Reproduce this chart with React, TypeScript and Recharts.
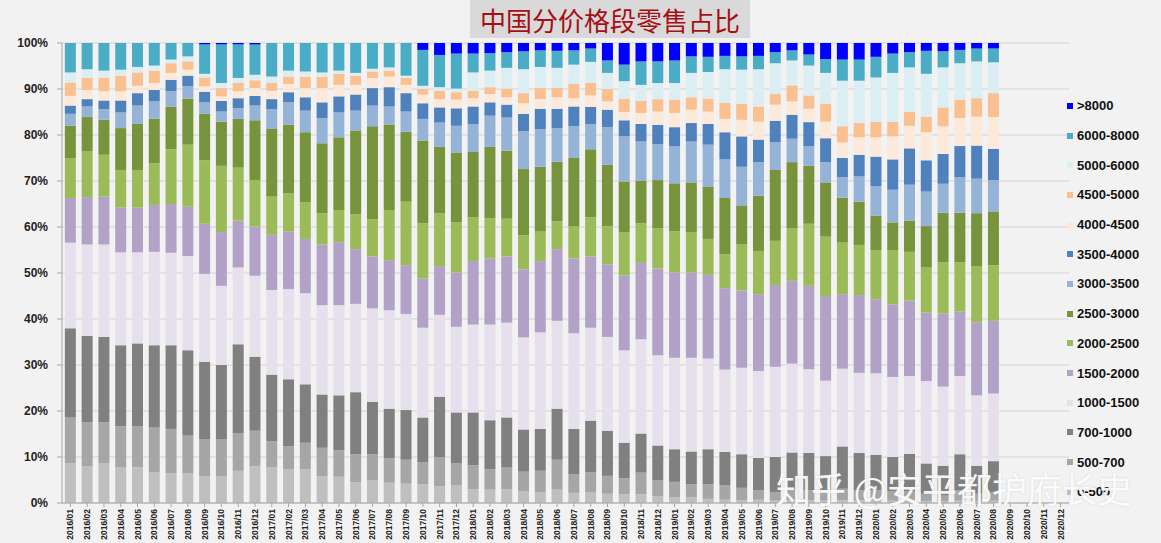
import React from 'react';
import { BarChart, Bar, XAxis, YAxis, CartesianGrid } from 'recharts';

// 2016/01 - 2020/12, data only up to 2020/08
const months: string[] = [];
for (let y = 2016; y <= 2020; y++) {
  for (let m = 1; m <= 12; m++) months.push(`${y}/${m < 10 ? '0' + m : m}`);
}

// share of retail sales by price band (%), one row per year
const p0_500 = [
  8.6, 8.0, 8.7, 7.7, 7.8, 6.7, 6.5, 6.5, 5.8, 5.8, 7.0, 8.0,
  7.8, 7.3, 7.3, 5.8, 5.7, 4.5, 4.9, 4.4, 4.2, 4.1, 3.6, 3.8,
  3.0, 2.9, 3.0, 2.5, 2.4, 2.9, 2.2, 2.4, 2.0, 1.9, 1.9, 1.5,
  1.2, 1.2, 0.9, 0.7, 0.6, 0.7, 0.5, 0.6, 0.6, 0.5, 0.6, 0.6,
  0.6, 0.5, 0.5, 0.4, 0.4, 0.5, 0.4, 0.5,
];
const p500_700 = [
  10.0, 9.5, 8.9, 9.0, 8.9, 9.7, 9.6, 8.2, 8.0, 8.0, 8.1, 7.7,
  5.6, 5.0, 5.8, 6.2, 5.8, 6.1, 5.7, 5.3, 5.2, 4.8, 6.3, 4.8,
  5.2, 4.4, 4.7, 4.3, 4.6, 6.5, 4.0, 4.3, 3.9, 3.5, 4.7, 3.4,
  3.4, 2.9, 3.2, 3.1, 2.7, 2.1, 1.9, 2.2, 2.2, 1.9, 2.5, 2.2,
  2.2, 2.1, 2.1, 1.6, 1.2, 2.3, 1.6, 1.9,
];
const p700_1000 = [
  19.4, 18.8, 18.5, 17.6, 18.0, 17.9, 18.2, 18.5, 16.9, 16.2, 19.4, 16.1,
  14.5, 14.6, 12.7, 11.6, 11.9, 13.5, 11.4, 10.8, 10.8, 9.7, 13.2, 11.1,
  11.5, 10.7, 10.9, 9.2, 9.1, 11.1, 9.9, 11.2, 9.8, 7.7, 8.5, 7.6,
  7.1, 7.1, 7.6, 7.3, 7.3, 7.0, 7.6, 8.2, 8.1, 7.8, 9.2, 8.1,
  7.7, 7.4, 8.1, 6.6, 6.5, 7.8, 6.1, 6.7,
];
const p1000_1500 = [
  18.6, 19.9, 20.1, 20.2, 19.8, 20.3, 20.1, 20.5, 19.1, 17.2, 16.7, 17.6,
  18.4, 19.6, 19.8, 19.4, 19.6, 19.2, 20.3, 21.4, 20.9, 19.5, 17.8, 18.6,
  19.1, 20.8, 20.6, 20.0, 21.0, 19.1, 20.8, 20.2, 20.4, 20.1, 20.5, 19.6,
  19.9, 20.4, 19.7, 17.9, 18.8, 18.9, 19.6, 19.3, 18.2, 16.4, 16.9, 17.4,
  17.7, 17.4, 16.9, 17.9, 17.2, 17.0, 15.3, 14.7,
];
const p1500_2000 = [
  9.7, 10.3, 10.4, 9.7, 9.7, 10.2, 10.6, 10.7, 10.9, 11.7, 10.2, 10.7,
  12.0, 12.5, 11.8, 13.2, 13.7, 11.9, 11.3, 10.9, 10.6, 10.7, 10.6, 11.8,
  13.8, 14.4, 14.4, 14.8, 15.5, 15.6, 16.3, 15.5, 15.8, 16.3, 16.6, 18.9,
  18.5, 18.5, 18.2, 17.7, 16.8, 16.7, 17.8, 18.0, 18.1, 18.4, 16.2, 16.9,
  16.1, 15.8, 16.4, 14.9, 15.9, 14.0, 15.9, 15.8,
];
const p2000_2500 = [
  8.7, 10.0, 9.1, 8.2, 8.2, 9.1, 11.9, 13.5, 13.8, 14.4, 11.5, 10.1,
  8.3, 8.3, 8.0, 6.8, 7.0, 7.6, 8.1, 10.9, 13.8, 12.0, 11.5, 10.9,
  9.5, 8.7, 8.2, 7.4, 6.4, 6.0, 6.9, 8.5, 8.3, 9.3, 8.6, 8.7,
  9.0, 8.7, 7.8, 7.4, 10.0, 9.4, 9.6, 11.4, 13.5, 12.9, 11.2, 10.9,
  10.6, 11.7, 10.6, 9.8, 11.1, 10.7, 12.1, 12.1,
];
const p2500_3000 = [
  7.0, 7.4, 7.6, 9.1, 10.0, 9.6, 9.3, 10.0, 10.1, 9.6, 10.6, 13.0,
  14.7, 14.9, 15.2, 15.2, 15.8, 18.2, 20.2, 18.6, 15.2, 18.0, 14.4, 15.2,
  14.2, 15.5, 14.8, 14.4, 14.1, 13.0, 14.9, 14.8, 13.3, 11.1, 9.3, 10.5,
  10.4, 10.9, 11.3, 12.2, 8.5, 12.0, 15.4, 14.4, 12.6, 11.8, 9.8, 9.4,
  7.6, 6.1, 6.8, 9.0, 10.8, 10.8, 11.6, 11.7,
];
const p3000_3500 = [
  2.6, 2.3, 2.3, 3.4, 4.0, 3.8, 3.3, 2.7, 2.5, 2.2, 2.3, 3.2,
  4.3, 4.9, 4.7, 5.5, 5.4, 4.3, 4.5, 3.9, 4.4, 4.7, 5.3, 5.8,
  6.1, 6.8, 7.2, 8.2, 8.2, 7.3, 6.9, 5.5, 8.2, 9.8, 8.5, 7.8,
  8.1, 8.9, 9.2, 8.4, 8.4, 7.3, 6.0, 5.1, 4.3, 4.4, 4.4, 5.5,
  6.4, 7.1, 7.8, 7.5, 6.3, 7.7, 7.5, 6.8,
];
const p3500_4000 = [
  1.8, 1.6, 1.9, 2.6, 2.7, 2.5, 2.5, 2.3, 2.3, 2.3, 2.2, 2.1,
  2.2, 2.2, 2.9, 3.4, 3.5, 3.5, 3.8, 4.2, 4.0, 3.4, 3.3, 3.8,
  3.8, 2.9, 2.8, 3.8, 4.4, 4.2, 4.3, 3.7, 3.8, 3.5, 3.8, 4.2,
  4.1, 4.0, 4.5, 5.9, 6.6, 4.9, 4.7, 5.2, 5.2, 5.2, 4.2, 4.7,
  6.4, 6.6, 7.9, 6.8, 6.5, 6.8, 7.2, 6.8,
];
const p4000_4500 = [
  2.1, 2.0, 2.0, 2.0, 1.6, 1.5, 1.5, 1.3, 1.2, 1.0, 1.5, 1.7,
  1.8, 1.8, 2.0, 3.1, 2.5, 2.1, 2.2, 2.3, 1.8, 1.9, 1.8, 1.9,
  1.8, 1.8, 1.6, 2.3, 2.1, 2.5, 1.8, 2.5, 1.8, 1.8, 2.4, 2.9,
  3.1, 2.9, 2.7, 2.9, 3.6, 3.9, 3.5, 2.9, 2.9, 3.6, 3.4, 3.8,
  4.2, 5.0, 4.9, 6.1, 6.0, 6.1, 6.3, 6.9,
];
const p4500_5000 = [
  2.9, 2.6, 3.0, 3.4, 2.9, 2.7, 2.1, 1.8, 1.9, 1.8, 1.8, 1.7,
  1.7, 1.6, 2.5, 2.5, 2.4, 2.0, 1.4, 1.3, 1.5, 1.2, 1.8, 1.6,
  1.6, 1.5, 1.9, 2.2, 2.4, 2.1, 3.1, 2.7, 2.7, 2.9, 2.6, 2.7,
  2.9, 2.7, 2.8, 3.5, 3.5, 3.3, 2.3, 3.5, 2.9, 3.9, 3.5, 3.1,
  3.4, 3.2, 3.0, 3.4, 4.1, 4.0, 4.0, 5.2,
];
const p5000_6000 = [
  2.2, 1.9, 1.5, 1.3, 1.2, 1.1, 0.8, 1.1, 0.8, 1.1, 1.1, 1.2,
  1.4, 1.3, 1.1, 0.9, 0.7, 0.6, 0.6, 0.7, 0.5, 0.7, 0.8, 0.8,
  4.0, 3.6, 4.5, 5.2, 4.6, 4.3, 4.2, 4.6, 3.5, 3.8, 3.5, 3.5,
  3.6, 5.3, 5.8, 7.3, 7.4, 8.1, 6.7, 5.4, 6.5, 6.7, 9.9, 9.2,
  9.6, 10.6, 9.7, 9.3, 8.7, 7.9, 8.0, 6.7,
];
const p6000_8000 = [
  6.4, 5.7, 6.0, 5.8, 5.2, 4.9, 3.6, 2.9, 6.4, 8.4, 7.3, 6.6,
  7.3, 6.0, 6.2, 6.4, 6.0, 6.5, 5.6, 5.3, 7.1, 7.8, 7.0, 7.6,
  4.1, 3.8, 3.4, 3.9, 3.6, 3.7, 3.1, 2.9, 2.7, 3.6, 5.1, 4.7,
  4.9, 3.6, 3.3, 2.9, 2.9, 2.9, 2.4, 2.2, 2.4, 3.0, 4.6, 4.6,
  4.5, 4.2, 3.3, 5.0, 3.5, 2.9, 2.8, 3.0,
];
const p8000 = [
  0, 0, 0, 0, 0, 0, 0, 0, 0.3, 0.3, 0.3, 0.3,
  0, 0, 0, 0, 0, 0, 0, 0, 0, 1.5, 2.6, 2.3,
  2.3, 2.2, 2.0, 1.8, 1.6, 1.7, 1.6, 1.2, 3.8, 4.7, 4.0, 4.0,
  3.8, 2.9, 3.0, 2.8, 2.9, 2.8, 2.0, 1.6, 2.5, 3.5, 3.6, 3.6,
  3.0, 2.3, 2.0, 1.7, 1.8, 1.5, 1.2, 1.2,
];

// bottom of the stack first
const series = [
  { key: '0-500', values: p0_500, color: '#BFBFBF' },
  { key: '500-700', values: p500_700, color: '#A6A6A6' },
  { key: '700-1000', values: p700_1000, color: '#808080' },
  { key: '1000-1500', values: p1000_1500, color: '#E6E0EC' },
  { key: '1500-2000', values: p1500_2000, color: '#B3A2C7' },
  { key: '2000-2500', values: p2000_2500, color: '#9BBB59' },
  { key: '2500-3000', values: p2500_3000, color: '#77933C' },
  { key: '3000-3500', values: p3000_3500, color: '#95B3D7' },
  { key: '3500-4000', values: p3500_4000, color: '#4F81BD' },
  { key: '4000-4500', values: p4000_4500, color: '#FDE9D9' },
  { key: '4500-5000', values: p4500_5000, color: '#FAC090' },
  { key: '5000-6000', values: p5000_6000, color: '#DBEEF4' },
  { key: '6000-8000', values: p6000_8000, color: '#4BACC6' },
  { key: '>8000', values: p8000, color: '#0000FF' },
];

const data = months.map((name, i) => {
  const row: any = { name };
  series.forEach((s) => {
    if (i < s.values.length) row[s.key] = s.values[i];
  });
  return row;
});

const yTicks = [0, 0.1, 0.2, 0.3, 0.4, 0.5, 0.6, 0.7, 0.8, 0.9, 1];
const FONT = 'Arial, "Liberation Sans", sans-serif';

const MonthTick = ({ x, y, payload }: any) => (
  <g transform={`translate(${x},${y})`}>
    <text
      transform="rotate(-90)"
      x={0}
      y={0}
      dy={3}
      textAnchor="end"
      fontSize={8.5}
      fontWeight="bold"
      fontFamily={FONT}
      fill="#222"
    >
      {payload.value}
    </text>
  </g>
);

export default function App() {
  return (
    <div
      style={{
        position: 'absolute',
        left: 0,
        top: 0,
        width: 1161,
        height: 543,
        background: '#F2F2F2',
        overflow: 'hidden',
        fontFamily: FONT,
      }}
    >
      <div
        style={{
          position: 'absolute',
          left: 470,
          top: 0,
          width: 280,
          height: 38,
          background: '#D9D9D9',
          color: '#A50F15',
          fontSize: 26,
          lineHeight: '40px',
          textAlign: 'center',
          fontFamily: '"Noto Sans CJK SC", sans-serif',
        }}
      >
        中国分价格段零售占比
      </div>

      <BarChart
        width={1161}
        height={543}
        data={data}
        stackOffset="expand"
        barCategoryGap="17%"
        margin={{ top: 43, right: 92, bottom: 0, left: 0 }}
      >
        <CartesianGrid horizontal vertical={false} stroke="#D4D4D4" />
        <XAxis
          dataKey="name"
          interval={0}
          height={40}
          tickSize={4}
          tickMargin={2}
          tick={<MonthTick />}
          axisLine={{ stroke: '#A6A6A6' }}
          tickLine={{ stroke: '#A6A6A6' }}
        />
        <YAxis
          type="number"
          domain={[0, 1]}
          ticks={yTicks}
          width={62}
          tickSize={5}
          tickMargin={9}
          tickFormatter={(v: number) => `${Math.round(v * 100)}%`}
          tick={{ fontSize: 12, fontWeight: 'bold', fill: '#222', fontFamily: FONT }}
          axisLine={{ stroke: '#A6A6A6' }}
          tickLine={{ stroke: '#A6A6A6' }}
        />
        {series.map((s) => (
          <Bar
            key={s.key}
            dataKey={s.key}
            stackId="a"
            fill={s.color}
            isAnimationActive={false}
          />
        ))}
      </BarChart>

      <div style={{ position: 'absolute', left: 1067, top: 91, width: 94 }}>
        {series
          .slice()
          .reverse()
          .map((s) => (
            <div
              key={s.key}
              style={{
                height: 29.7,
                display: 'flex',
                alignItems: 'center',
                fontSize: 13,
                fontWeight: 'bold',
                color: '#111',
                whiteSpace: 'nowrap',
              }}
            >
              <span
                style={{
                  display: 'inline-block',
                  width: 6,
                  height: 6,
                  background: s.color,
                  marginRight: 4,
                }}
              />
              {s.key}
            </div>
          ))}
      </div>

      <div
        style={{
          position: 'absolute',
          left: 776,
          top: 468,
          fontSize: 35,
          color: 'rgba(255,255,255,0.92)',
          fontFamily: '"Noto Sans CJK SC", sans-serif',
          whiteSpace: 'nowrap',
          lineHeight: '40px',
          textShadow: '0 0 2px rgba(160,160,160,0.4)',
        }}
      >
        知乎 @安平都护府长史
      </div>
    </div>
  );
}
